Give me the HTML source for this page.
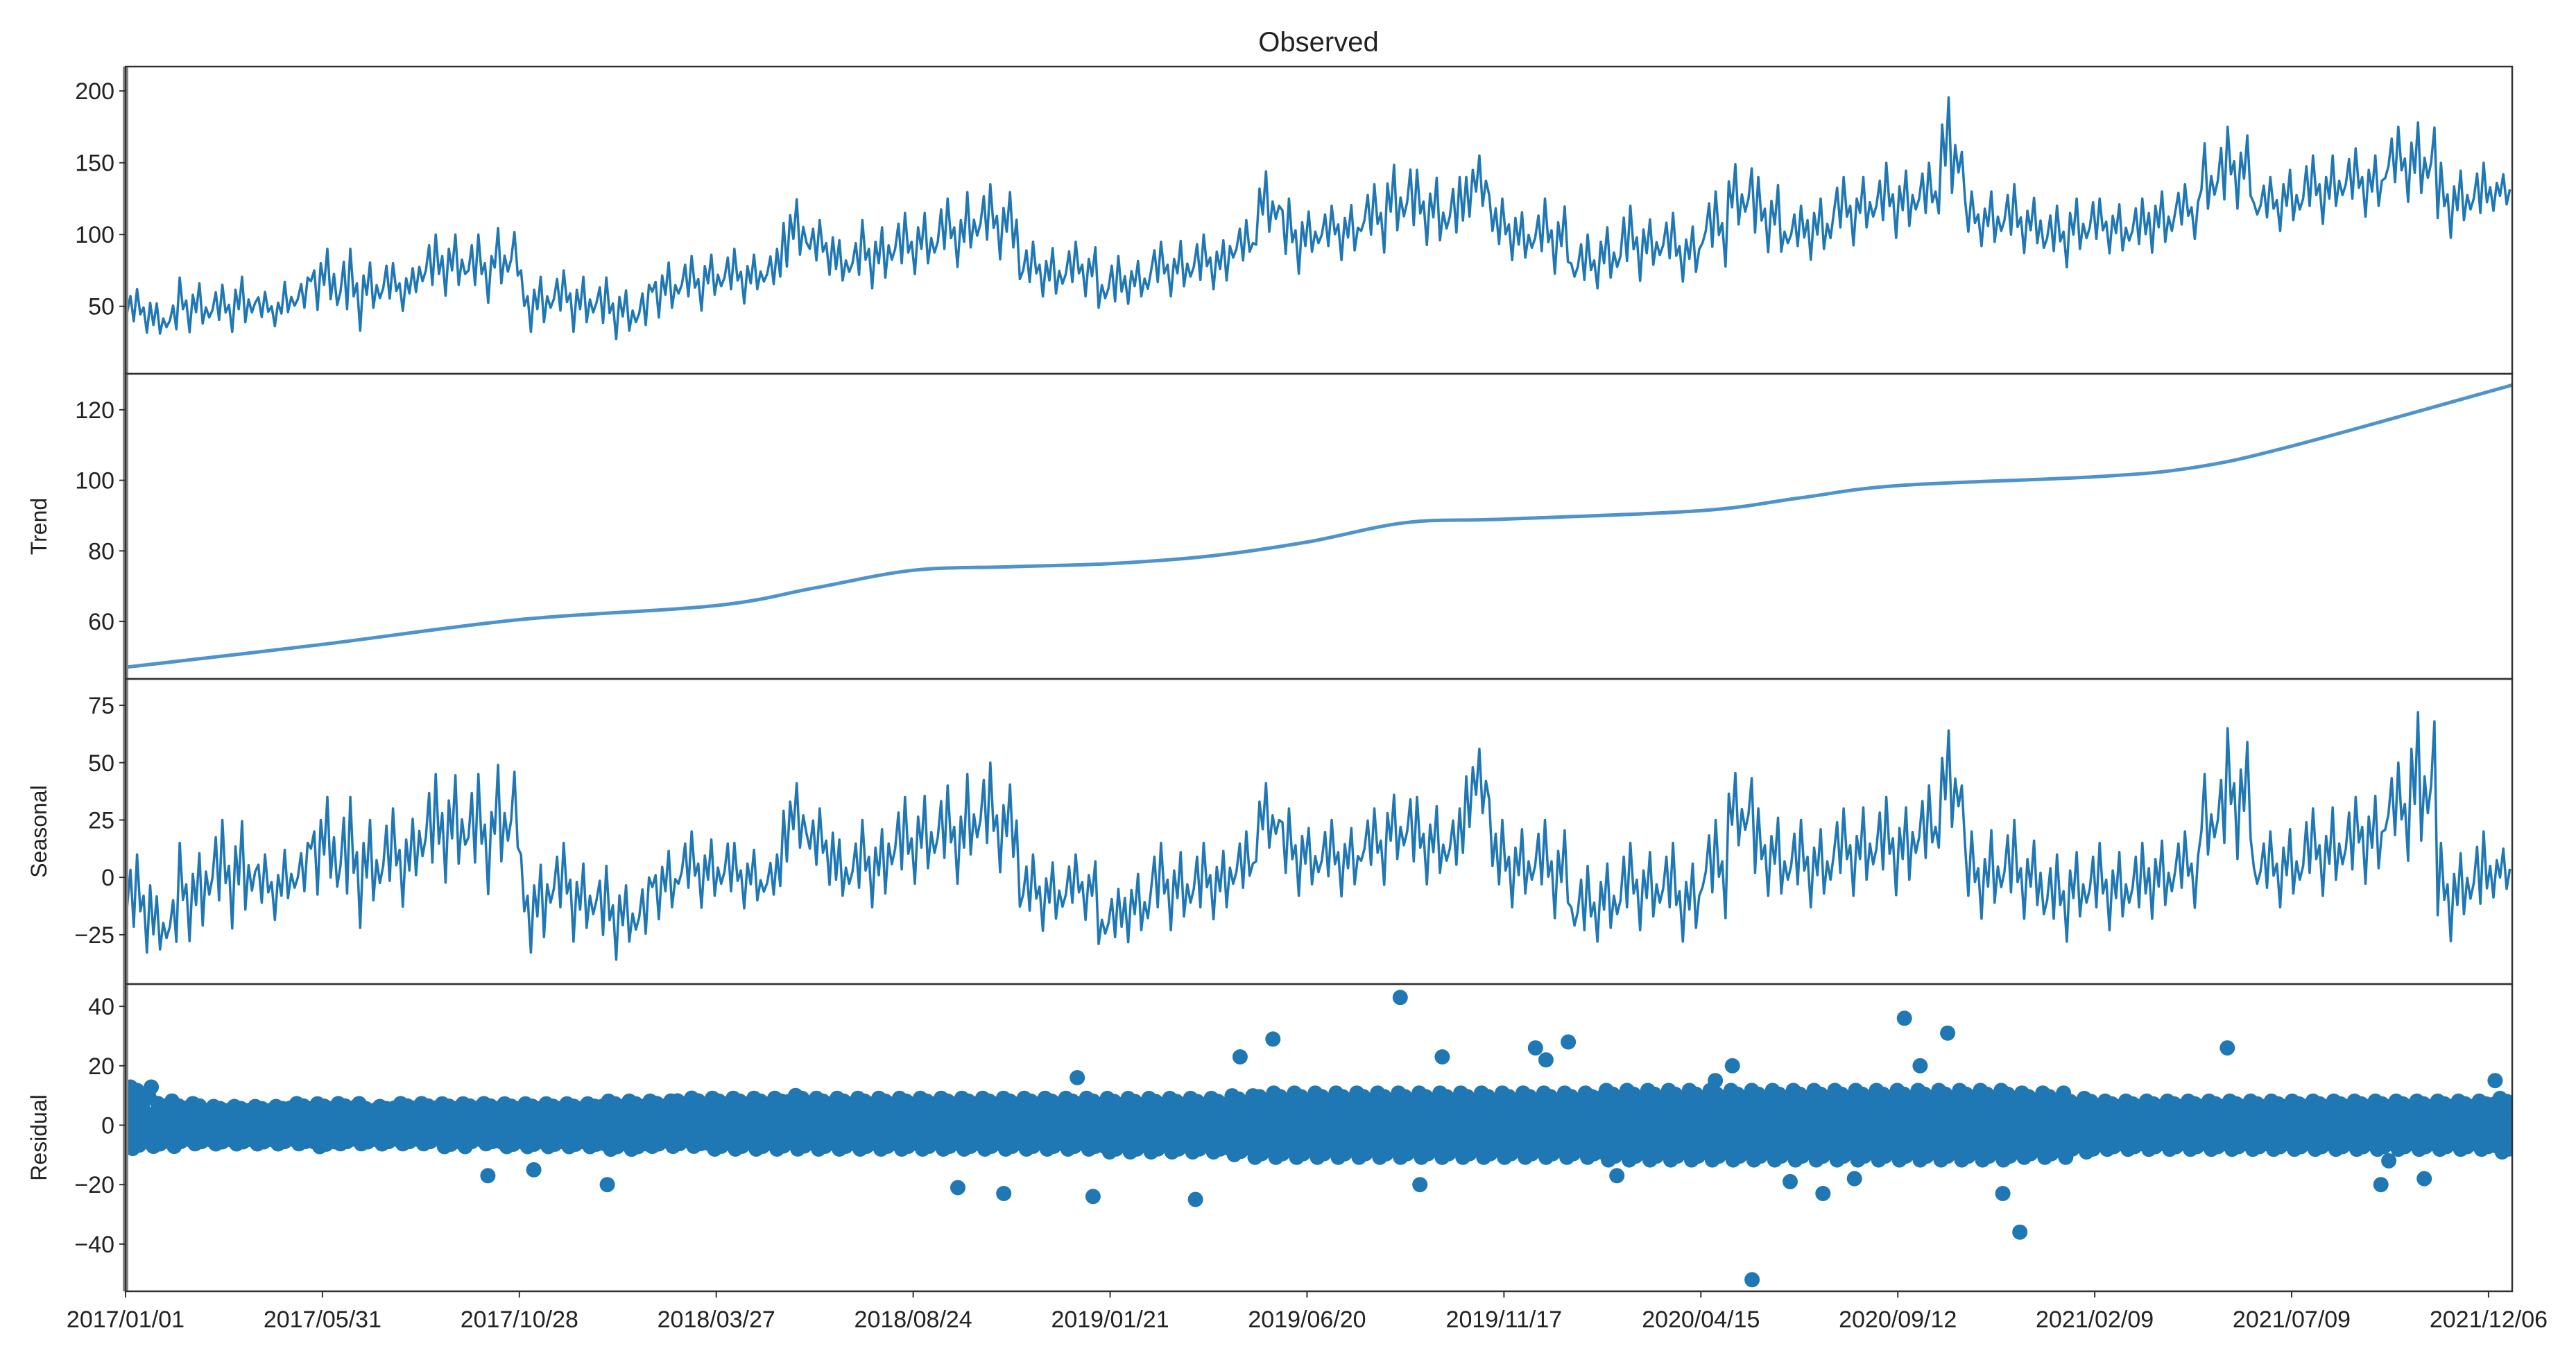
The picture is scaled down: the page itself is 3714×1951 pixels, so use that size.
<!DOCTYPE html>
<html><head><meta charset="utf-8">
<style>
html,body{margin:0;padding:0;background:#fff;}
svg{display:block;font-family:"Liberation Sans","DejaVu Sans",sans-serif;}
</style></head>
<body>
<svg id="chart" width="3714" height="1951" viewBox="0 0 3714 1951" xmlns="http://www.w3.org/2000/svg">
<rect x="0" y="0" width="3714" height="1951" fill="#fff"/>
<text x="1901" y="74" font-size="40" text-anchor="middle" fill="#222">Observed</text>
<g id="layer"></g>
</svg>
<script>
// ---- data ----
const xTickLabels = ["2017/01/01","2017/05/31","2017/10/28","2018/03/27","2018/08/24","2019/01/21","2019/06/20","2019/11/17","2020/04/15","2020/09/12","2021/02/09","2021/07/09","2021/12/06"];
const xTickDays = [0,150,300,450,600,750,900,1050,1200,1350,1500,1650,1800];
const windowDays = 20;
const observedLo = [30,25,30,30,30,35,40,45,30,40,45,50,55,50,55,30,35,30,25,25,40,45,50,50,55,75,70,60,60,65,70,75,80,80,55,50,55,40,50,55,55,60,70,90,70,80,80,85,90,90,85,110,80,75,70,55,60,65,70,65,75,95,85,80,80,90,95,95,100,110,90,85,85,75,80,85,80,85,95,105,115,100,100,105,110,110,120,115,95,100,115];
const observedHi = [62,55,70,65,75,60,70,95,90,85,80,100,105,100,110,75,75,75,70,65,85,85,90,90,90,130,110,100,110,115,120,125,135,135,95,95,95,85,85,95,100,100,110,150,125,120,125,135,155,145,140,160,125,120,125,100,110,120,115,110,130,155,140,120,130,140,145,150,150,205,130,135,130,120,130,125,125,135,135,170,175,140,150,155,160,160,175,185,150,150,145];
const trendDays = [0,150,300,450,525,600,675,750,825,900,975,1050,1200,1275,1350,1500,1575,1650,1818];
const trendVals = [47,53.5,60.5,64.5,69.5,74.5,75.5,76.4,78.5,82.5,88,89,91.4,95,98.5,101,103.6,109.7,127];
const seasonalLo = [-35,-38,-30,-25,-25,-20,-15,-10,-25,-20,-15,-10,-5,-10,-5,-35,-25,-30,-38,-35,-20,-15,-15,-15,-15,5,-5,-15,-15,-10,-5,-5,0,0,-25,-25,-20,-35,-30,-25,-25,-20,-15,5,-10,-10,-10,-5,0,-5,-5,20,-15,-15,-20,-35,-30,-25,-25,-30,-20,5,-10,-15,-15,-10,-10,-10,-5,10,-20,-20,-20,-30,-25,-25,-25,-20,-15,0,5,-15,-15,-10,-10,-5,5,0,-30,-25,-10];
const seasonalHi = [10,-5,15,25,30,10,15,40,35,30,30,45,50,45,55,10,15,10,5,0,15,20,20,15,10,45,30,20,25,35,40,40,50,45,10,10,10,-5,5,15,15,15,20,45,30,25,25,30,40,35,30,60,25,25,25,5,10,15,15,10,25,50,30,25,25,30,35,35,40,70,20,25,20,10,15,15,15,20,20,50,65,20,25,30,35,40,50,80,15,20,15];
const residualLo = [-9,-8,-7,-7,-7,-7,-7,-8,-7,-7,-7,-7,-8,-7,-8,-8,-8,-8,-9,-9,-8,-8,-9,-9,-9,-9,-9,-9,-9,-9,-9,-9,-9,-9,-9,-9,-9,-10,-10,-10,-10,-10,-11,-12,-12,-12,-12,-12,-12,-12,-12,-12,-12,-12,-12,-12,-13,-13,-13,-13,-13,-13,-13,-13,-13,-13,-13,-13,-13,-13,-13,-13,-12,-12,-10,-9,-9,-9,-9,-9,-9,-9,-9,-9,-9,-9,-9,-9,-9,-9,-10];
const residualHi = [14,9,8,7,7,7,8,8,8,7,8,8,8,8,8,8,8,8,9,9,9,10,10,10,10,11,10,10,10,10,10,10,10,10,10,10,10,10,10,10,10,10,11,12,12,12,12,12,12,12,12,12,12,12,12,12,13,13,13,13,13,13,13,13,13,13,13,13,13,13,13,13,12,12,10,9,9,9,9,9,9,9,9,9,9,9,9,9,9,9,10];
const outlierDays = [971,874,849,1355,1388,1601,1239,1443,1430,737,815,669,634,367,276,311,725,1074,1099,1082,1003,1268,1293,1718,1751,1805,1724,1224,1211,1367,1136,986,1317];
const outlierVals = [43,29,23,36,31,26,-52,-36,-23,-24,-25,-23,-21,-20,-17,-15,16,26,28,22,23,-19,-23,-20,-18,15,-12,20,15,20,-17,-20,-18];
const obsTicks = [50,100,150,200];
const trendTicks = [60,80,100,120];
const seasTicks = [-25,0,25,50,75];
const resTicks = [-40,-20,0,20,40];

// ---- layout ----
const NS = "http://www.w3.org/2000/svg";
const layer = document.getElementById('layer');
const X0 = 181, X1 = 3622, DMAX = 1818;
const xs = d => X0 + (d / DMAX) * (X1 - X0);
const panels = [
  {name:'observed', top:96, bot:539, lo:3, hi:217, ticks:obsTicks, label:''},
  {name:'trend', top:539, bot:979, lo:43.7, hi:130.2, ticks:trendTicks, label:'Trend'},
  {name:'seasonal', top:979, bot:1419, lo:-46.5, hi:86.5, ticks:seasTicks, label:'Seasonal'},
  {name:'residual', top:1419, bot:1862, lo:-55.9, hi:47.5, ticks:resTicks, label:'Residual'}
];
function ysFor(p){ return v => p.bot - (v - p.lo) / (p.hi - p.lo) * (p.bot - p.top); }
function mk(tag, attrs, parent){ const e = document.createElementNS(NS, tag); for (const k in attrs) e.setAttribute(k, attrs[k]); (parent||layer).appendChild(e); return e; }
const BLUE = '#1f77b4';
const pattern = [0.5,0.85,0.3,1,0.45,0.6,0.05,0.7,0.4,0.9,0.2,0.55,0.35];
const dotPattern = [0.5,0.15,0.8,0.35,0.95,0.6,0.05,0.7,0.25,0.45,0.9,0.55,0.1,0.75,0.3,0.65,0.4,0.85,0.2];

function zigzag(lo, hi, ys){
  let d = '';
  const sub = 8;
  let n = 0;
  for (let i = 0; i < lo.length; i++) {
    for (let k = 0; k < sub; k++) {
      const day = i * windowDays + (k + 0.5) * windowDays / sub;
      if (day > DMAX) break;
      const v = lo[i] + (hi[i] - lo[i]) * pattern[n++ % pattern.length];
      d += (d ? 'L' : 'M') + xs(day).toFixed(1) + ',' + ys(v).toFixed(1);
    }
  }
  return d;
}
function smoothPath(pts){
  let d = 'M' + pts[0][0].toFixed(1) + ',' + pts[0][1].toFixed(1);
  for (let i = 0; i < pts.length - 1; i++) {
    const p0 = pts[Math.max(0, i - 1)], p1 = pts[i], p2 = pts[i + 1], p3 = pts[Math.min(pts.length - 1, i + 2)];
    const c1x = p1[0] + (p2[0] - p0[0]) / 6, c1y = p1[1] + (p2[1] - p0[1]) / 6;
    const c2x = p2[0] - (p3[0] - p1[0]) / 6, c2y = p2[1] - (p3[1] - p1[1]) / 6;
    d += 'C' + c1x.toFixed(1) + ',' + c1y.toFixed(1) + ' ' + c2x.toFixed(1) + ',' + c2y.toFixed(1) + ' ' + p2[0].toFixed(1) + ',' + p2[1].toFixed(1);
  }
  return d;
}

panels.forEach((p, pi) => {
  const ys = ysFor(p);
  const g = mk('g', {});
  
  
  const clipId = 'clip' + pi;
  const cp = mk('clipPath', {id: clipId}, g);
  mk('rect', {x: X0, y: p.top, width: X1 - X0, height: p.bot - p.top}, cp);
  const plot = mk('g', {'clip-path': 'url(#' + clipId + ')'}, g);
  if (p.name === 'observed' || p.name === 'seasonal') {
    const lo = p.name === 'observed' ? observedLo : seasonalLo;
    const hi = p.name === 'observed' ? observedHi : seasonalHi;
    const path = mk('path', {d: zigzag(lo, hi, ys), fill: 'none', stroke: BLUE, 'stroke-width': 3.5, 'stroke-linejoin': 'round'}, plot);
    
    
  } else if (p.name === 'trend') {
    const pts = trendDays.map((t, i) => [xs(t), ys(trendVals[i])]);
    const path = mk('path', {d: smoothPath(pts), fill: 'none', stroke: '#4f93cc', 'stroke-width': 5, 'stroke-linejoin': 'round'}, plot);
    
    
  } else {
    const zl = mk('line', {x1: X0, x2: X1, y1: ys(0), y2: ys(0), stroke: '#222', 'stroke-width': 2}, plot);
    
    
    const sub = 24;
    let n = 0;
    for (let i = 0; i < residualLo.length; i++) {
      for (let k = 0; k < sub; k++) {
        const day = i * windowDays + (k + 0.5) * windowDays / sub;
        if (day > DMAX) break;
        const f = dotPattern[n++ % dotPattern.length];
        const v = residualLo[i] + (residualHi[i] - residualLo[i]) * f;
        const c = mk('circle', {cx: xs(day).toFixed(1), cy: ys(v).toFixed(1), r: 11, fill: BLUE}, plot);
        
        
      }
    }
    outlierDays.forEach((t, i) => {
      const c = mk('circle', {cx: xs(t).toFixed(1), cy: ys(outlierVals[i]).toFixed(1), r: 11, fill: BLUE}, plot);
      
      
    });
  }
  mk('rect', {x: X0 - 4, y: p.top, width: 8, height: p.bot - p.top, fill: '#8a8a8a'}, g);
  const fr = mk('rect', {x: X0, y: p.top, width: X1 - X0, height: p.bot - p.top, fill: 'none', stroke: '#333', 'stroke-width': 2.5}, g);
  
  
  p.ticks.forEach(t => {
    const y = ys(t);
    mk('line', {x1: X0 - 9, x2: X0, y1: y, y2: y, stroke: '#333', 'stroke-width': 2}, g);
    const tx = mk('text', {x: X0 - 16, y: y + 12, 'font-size': 34, 'text-anchor': 'end', fill: '#222'}, g);
    tx.textContent = t < 0 ? '\u2212' + Math.abs(t) : String(t);
    
    
  });
  if (p.label) {
    const cy = (p.top + p.bot) / 2;
    const lt = mk('text', {x: 0, y: 0, 'font-size': 32, 'text-anchor': 'middle', fill: '#222', transform: 'translate(67,' + cy + ') rotate(-90)'}, g);
    lt.textContent = p.label;
    
    
  }
});

xTickDays.forEach((d, i) => {
  const x = xs(d);
  mk('line', {x1: x, x2: x, y1: 1862, y2: 1871, stroke: '#333', 'stroke-width': 2});
  const t = mk('text', {x: x, y: 1914, 'font-size': 34, 'text-anchor': 'middle', fill: '#222'});
  t.textContent = xTickLabels[i];
  
  
});
</script>
</body></html>
